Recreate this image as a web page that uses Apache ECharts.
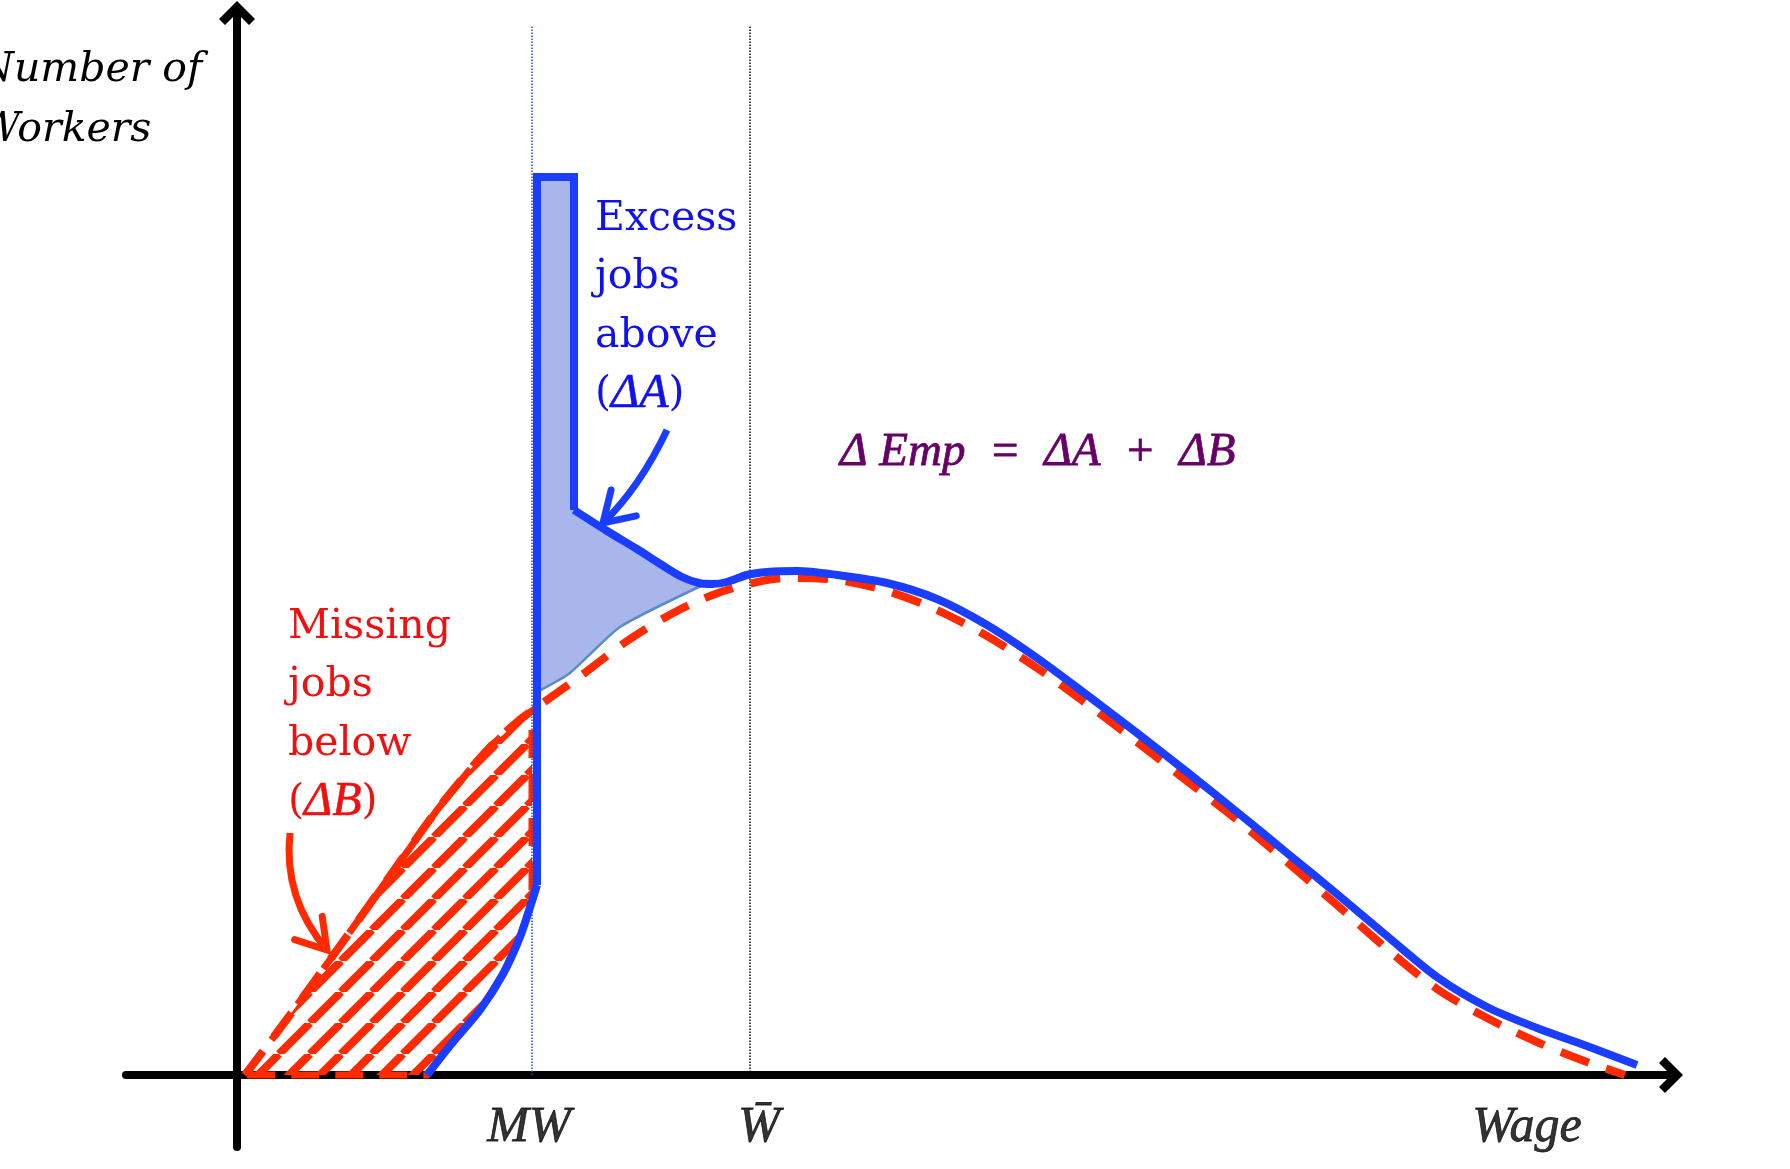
<!DOCTYPE html>
<html>
<head>
<meta charset="utf-8">
<script src="https://cdn.jsdelivr.net/npm/echarts@6/dist/echarts.min.js"></script>
<style>
    html, body {margin: 0; padding: 0; background: #fff;}
    #chart {width: 1790px; height: 1169px;}
</style>
</head>
<body>
<div id="chart"></div>
<script>
// 数据单位: 原点在两轴交点 (工资, 工人数)
var blueLeft = [[190, 0], [216, 33], [243, 65], [266, 101], [283, 138], [295, 174], [300, 190]];
var blueSpike = [[300, 190], [300, 898], [337, 898], [337, 565]];
var blueRight = [[337, 565], [370, 544], [400, 526], [425, 510], [445, 498], [462, 492], [475, 491], [490, 493],
    [510, 500], [530, 503], [560, 504], [600, 500], [650, 492], [700, 476], [750, 450], [800, 417], [850, 380],
    [900, 342], [950, 303], [1000, 263], [1050, 222], [1100, 181], [1150, 139], [1200, 98], [1250, 68],
    [1300, 47], [1350, 29], [1400, 10]];
var redCurve = [[8, 0], [50, 56], [100, 125], [150, 195], [200, 265], [230, 302], [255, 330], [280, 353],
    [310, 375], [345, 400], [390, 434], [440, 464], [490, 485], [550, 497], [600, 495], [650, 484], [700, 465],
    [750, 439], [800, 407], [850, 371], [900, 333], [950, 294], [1000, 255], [1050, 213], [1100, 170],
    [1150, 126], [1200, 86], [1250, 57], [1300, 33], [1350, 13], [1388, 0]];
var fillLower = [[466, 490], [383, 448], [333, 402], [300, 383]];

var mwX = 295, wbarX = 513, guideTop = 1050;
var tickValues = [292, 522, 1290];
var tickLabels = ['MW', 'W\u0304', 'Wage'];

// 箭头: 起点, 控制点, 终点
var arrowA = [[430, 645], [403, 588], [366, 552]];
var arrowB = [[53, 242], [46, 177], [90, 125]];

var blue = '#1a3dff';
var red = '#ff2a00';
var chevron = 'path://M18,0 L36,18 L30,24 L18,12 L6,24 L0,18 Z';

window.onload = function () {
    drawChart();
};

//斜线填充
function hatchPattern() {
    var s = 31;
    var cv = document.createElement('canvas');
    cv.width = s;
    cv.height = s;
    var ctx = cv.getContext('2d');
    ctx.strokeStyle = red;
    ctx.lineWidth = 8;
    for (var k = -1; k <= 1; k++) {
        ctx.beginPath();
        ctx.moveTo(k * s, s);
        ctx.lineTo(k * s + s, 0);
        ctx.stroke();
    }
    return {image: cv, repeat: 'repeat'};
}

function polygonSeries(points, style, z) {
    return {
        type: 'custom',
        z: z,
        silent: true,
        data: [[0, 0]],
        renderItem: function (params, api) {
            return {
                type: 'polygon',
                shape: {points: points.map(function (p) { return api.coord(p); })},
                style: style
            };
        }
    };
}

//弯箭头
function arrowSeries(pts, color) {
    return {
        type: 'custom',
        z: 7,
        silent: true,
        data: [[0, 0]],
        renderItem: function (params, api) {
            var p0 = api.coord(pts[0]), c = api.coord(pts[1]), p1 = api.coord(pts[2]);
            var ang = Math.atan2(c[1] - p1[1], c[0] - p1[0]);
            var a = 0.56, L = 34;
            var h1 = [p1[0] + L * Math.cos(ang + a), p1[1] + L * Math.sin(ang + a)];
            var h2 = [p1[0] + L * Math.cos(ang - a), p1[1] + L * Math.sin(ang - a)];
            return {
                type: 'group',
                children: [
                    {
                        type: 'bezierCurve',
                        shape: {x1: p0[0], y1: p0[1], x2: p1[0], y2: p1[1], cpx1: c[0], cpy1: c[1]},
                        style: {fill: null, stroke: color, lineWidth: 7}
                    },
                    {
                        type: 'polyline',
                        shape: {points: [h1, p1, h2]},
                        style: {fill: null, stroke: color, lineWidth: 7, lineCap: 'round', lineJoin: 'miter'}
                    }
                ]
            };
        }
    };
}

function lineSeries(data, color, width, type, smooth, z) {
    return {
        type: 'line',
        data: data,
        z: z,
        silent: true,
        symbol: 'none',
        smooth: smooth,
        clip: false,
        lineStyle: {color: color, width: width, type: type, cap: 'butt', join: 'miter'}
    };
}

function drawChart() {
    var myChart = echarts.init(document.getElementById('chart'));    //初始化echarts图表

    var hatchPoly = redCurve.filter(function (p) { return p[0] <= 293; })
        .concat([[295, 364]])
        .concat(blueLeft.filter(function (p) { return p[0] <= 295; }).reverse());
    var fillPoly = blueSpike.slice(1)
        .concat(blueRight.slice(1).filter(function (p) { return p[0] <= 466; }))
        .concat(fillLower);

    var axisLabels = {
        type: 'scatter',
        silent: true,
        symbolSize: 1,
        itemStyle: {color: 'rgba(0,0,0,0)'},
        data: tickValues.map(function (v) { return [v, 0]; }),
        label: {
            show: true,
            position: 'bottom',
            distance: 27,
            formatter: function (p) { return tickLabels[p.dataIndex]; },
            fontFamily: 'Liberation Serif',
            fontStyle: 'italic',
            fontSize: 50,
            color: '#000',
            textBorderColor: '#000',
            textBorderWidth: 0.8
        }
    };

    var option = {
        animation: false,
        grid: {left: 126, right: 119, top: 13, bottom: 22, outerBoundsMode: 'none'},
        xAxis: {
            type: 'value',
            min: -111,
            max: 1434,
            axisLine: {
                show: true, onZero: true,
                symbol: ['none', chevron], symbolSize: [36, 24],
                lineStyle: {color: '#000', width: 8}
            },
            axisTick: {show: false},
            splitLine: {show: false},
            axisLabel: {show: false}
        },
        yAxis: {
            type: 'value',
            min: -72,
            max: 1062,
            axisLine: {
                show: true, onZero: true,
                symbol: ['none', chevron], symbolSize: [36, 24],
                lineStyle: {color: '#000', width: 8}
            },
            axisTick: {show: false},
            splitLine: {show: false},
            axisLabel: {show: false}
        },
        graphic: [
            {
                type: 'text', x: -22, y: 40, silent: true,
                style: {
                    text: 'Number of\nWorkers', fontFamily: 'DejaVu Serif', fontStyle: 'italic',
                    fontSize: 41, lineHeight: 60, fill: '#000', verticalAlign: 'top'
                }
            },
            {
                type: 'text', x: 288, y: 598, silent: true,
                style: {
                    text: 'Missing\njobs\nbelow\n({m|ΔB})', fontFamily: 'DejaVu Serif',
                    fontSize: 41, lineHeight: 58.5, fill: '#f01010', verticalAlign: 'top',
                    rich: {m: {fontFamily: 'Liberation Serif', fontStyle: 'italic', fontSize: 48, lineHeight: 58.5,
                        fill: '#f01010', stroke: '#f01010', lineWidth: 0.6}}
                }
            },
            {
                type: 'text', x: 595, y: 190, silent: true,
                style: {
                    text: 'Excess\njobs\nabove\n({m|ΔA})', fontFamily: 'DejaVu Serif',
                    fontSize: 41, lineHeight: 58.5, fill: '#1111ee', verticalAlign: 'top',
                    rich: {m: {fontFamily: 'Liberation Serif', fontStyle: 'italic', fontSize: 48, lineHeight: 58.5,
                        fill: '#1111ee', stroke: '#1111ee', lineWidth: 0.6}}
                }
            },
            {
                type: 'text', x: 840, y: 453, silent: true,
                style: {
                    text: 'Δ Emp  =  ΔA  +  ΔB', fontFamily: 'Liberation Serif', fontStyle: 'italic',
                    fontSize: 47, fill: '#660066', stroke: '#660066', lineWidth: 0.8, verticalAlign: 'middle'
                }
            }
        ],
        series: [
            polygonSeries(fillPoly, {fill: '#a9b6ec', stroke: null}, 1),
            polygonSeries(hatchPoly, {fill: hatchPattern(), stroke: red, lineWidth: 7, lineDash: [28, 16]}, 2),
            lineSeries([[mwX, 0], [mwX, guideTop]], '#2a46e0', 1.5, 'dotted', false, 3),
            lineSeries([[wbarX, 0], [wbarX, guideTop]], '#000', 1.5, 'dotted', false, 3),
            lineSeries(fillLower, '#5b8cc8', 2.5, 'solid', 0.2, 3),
            lineSeries(redCurve, red, 8, [30, 18], 0.3, 4),
            lineSeries(blueLeft, blue, 8, 'solid', 0.3, 6),
            lineSeries(blueSpike, blue, 8, 'solid', false, 6),
            lineSeries(blueRight, blue, 8, 'solid', 0.3, 6),
            arrowSeries(arrowA, blue),
            arrowSeries(arrowB, red),
            axisLabels
        ]
    };

    myChart.setOption(option);   //为echarts对象加载数据
}
</script>
</body>
</html>
